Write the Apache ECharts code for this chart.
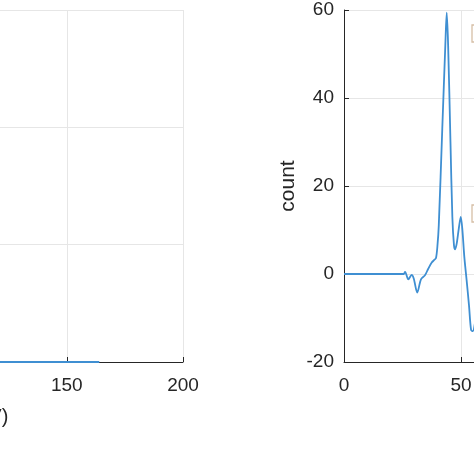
<!DOCTYPE html>
<html>
<head>
<meta charset="utf-8">
<script src="https://cdn.jsdelivr.net/npm/echarts@6/dist/echarts.min.js"></script>
<style>html,body{margin:0;padding:0;background:#fff;}#c{width:474px;height:474px;}</style>
</head>
<body>
<div id="c"></div>
<script>
// Left subplot data
var leftX = [0, 164];
var leftY = [0, 0];
// Right subplot data
var rightX = [0, 25.5, 26.1, 27.5, 28.9, 29.8, 31.3, 32.9, 34.6, 36.0, 37.5, 38.6, 39.3, 39.9, 40.5, 42.0, 43.3, 43.9, 44.5, 45.5, 46.3, 47.0, 47.5, 48.2, 49.1, 49.9, 50.6, 51.4, 52.4, 53.4, 54.3, 55.0, 56.0];
var rightY = [0, 0, 0.5, -1.2, -0.2, -1.0, -4.2, -1.2, -0.3, 1.2, 2.6, 3.2, 3.6, 6.2, 11, 33, 52, 59.4, 52, 30, 13, 6.5, 5.6, 7, 10.5, 13, 10, 4, -1.4, -7, -12.7, -13, -11];
var xTicks = [0, 50, 100, 150, 200];
var rightYTicks = [-20, 0, 20, 40, 60];
var leftXName = 'Voltage (mV)';
var rightYName = 'count';

function pairs(xs, ys){ return xs.map(function(x,i){return [x, ys[i]];}); }

var axisColor = '#262626';
var gridColor = '#e6e6e6';
var font = 'Liberation Sans, Arial, Helvetica, sans-serif';
var lbl = {color: axisColor, fontSize: 19, fontFamily: font, margin: 14};

var chart = echarts.init(document.getElementById('c'), null, {renderer: 'canvas'});
chart.setOption({
  animation: false,
  backgroundColor: '#fff',
  grid: [
    {left: -282, top: 10, width: 465, height: 352, containLabel: false, outerBoundsMode: 'none'},
    {left: 344, top: 10, width: 468, height: 352, containLabel: false, outerBoundsMode: 'none'}
  ],
  xAxis: [
    {gridIndex: 0, type: 'value', min: 0, max: 200, interval: 50,
     name: leftXName, nameLocation: 'middle', nameGap: 45, nameMoveOverlap: false,
     nameTextStyle: {color: axisColor, fontSize: 20, fontFamily: font},
     axisLine: {show: true, lineStyle: {color: axisColor, width: 1}},
     axisTick: {show: true, inside: true, length: 5, lineStyle: {color: axisColor}},
     axisLabel: lbl,
     splitLine: {show: true, lineStyle: {color: gridColor, width: 1}}},
    {gridIndex: 1, type: 'value', min: 0, max: 200, interval: 50,
     axisLine: {show: true, onZero: false, lineStyle: {color: axisColor, width: 1}},
     axisTick: {show: true, inside: true, length: 5, lineStyle: {color: axisColor}},
     axisLabel: lbl,
     splitLine: {show: true, lineStyle: {color: gridColor, width: 1}}}
  ],
  yAxis: [
    {gridIndex: 0, type: 'value', min: 0, max: 3, interval: 1,
     axisLine: {show: false},
     axisTick: {show: false},
     axisLabel: {show: false},
     splitLine: {show: true, lineStyle: {color: gridColor, width: 1}}},
    {gridIndex: 1, type: 'value', min: -20, max: 60, interval: 20,
     name: rightYName, nameLocation: 'middle', nameGap: 45, nameRotate: 90, nameMoveOverlap: false,
     nameTextStyle: {color: axisColor, fontSize: 21, fontFamily: font},
     axisLine: {show: true, onZero: false, lineStyle: {color: axisColor, width: 1}},
     axisTick: {show: true, inside: true, length: 5, lineStyle: {color: axisColor}},
     axisLabel: {color: axisColor, fontSize: 19, fontFamily: font, margin: 10},
     splitLine: {show: true, lineStyle: {color: gridColor, width: 1}}}
  ],
  series: [
    {type: 'line', xAxisIndex: 0, yAxisIndex: 0, data: pairs(leftX, leftY),
     showSymbol: false, lineStyle: {color: '#3f8fd2', width: 1.8}, z: 3},
    {type: 'line', xAxisIndex: 1, yAxisIndex: 1, data: pairs(rightX, rightY),
     showSymbol: false, smooth: 0.3, lineStyle: {color: '#3f8fd2', width: 1.8}, z: 3}
  ],
  graphic: [
    {type: 'rect', shape: {x: 472, y: 25, width: 40, height: 17},
     style: {fill: 'rgba(255,255,255,0.9)', stroke: '#d6bfa6', lineWidth: 1.3}, z: 10},
    {type: 'rect', shape: {x: 472, y: 205, width: 40, height: 17},
     style: {fill: 'rgba(255,255,255,0.9)', stroke: '#d6bfa6', lineWidth: 1.3}, z: 10}
  ]
});
</script>
</body>
</html>
